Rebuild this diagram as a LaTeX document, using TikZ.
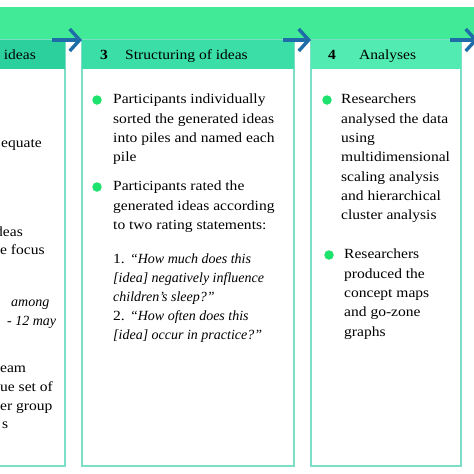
\documentclass[tikz,border=0pt]{standalone}
\usepackage{fontspec}
\setmainfont{Liberation Serif}[UprightFeatures={FakeStretch=1.11},
  BoldFeatures={FakeStretch=1.11}]
\usepackage{xcolor}
\usepackage{tikz}
\usetikzlibrary{arrows.meta}
\definecolor{topbar}{RGB}{64,234,150}
\definecolor{headA}{RGB}{44,208,156}
\definecolor{headB}{RGB}{58,222,166}
\definecolor{headC}{RGB}{82,236,178}
\definecolor{rim}{RGB}{125,222,200}
\definecolor{flowblue}{RGB}{30,108,168}
\definecolor{dotgreen}{RGB}{30,226,110}
\tikzstyle{stagebox}=[draw=rim, fill=white, line width=1.3pt, inner sep=0pt,
  outer sep=0pt, anchor=north west, minimum height=426pt]
\tikzstyle{header}=[inner sep=0pt, outer sep=0pt, anchor=north west,
  minimum height=29pt]
\tikzstyle{note}=[anchor=base west, inner sep=0pt, align=left,
  font=\fontsize{14}{19.3}\selectfont]
\tikzstyle{block}=[note, anchor=north west,
  execute at begin node={\rule{0pt}{11pt}}]
\tikzstyle{quote}=[block, font=\fontsize{14}{19}\selectfont\itshape]
\tikzstyle{cut}=[note]
\tikzstyle{dot}=[circle, fill=dotgreen, inner sep=0pt, minimum size=9.5pt]
\tikzstyle{flow}=[draw, color=flowblue, line width=3.4pt,
  -{Straight Barb[length=10pt,width=22pt]}]
\newcommand{\stage}[4]{%
  node (b#1) [stagebox, minimum width=#3] at (#2,40) {}
  node (h#1) [header, minimum width=#3, fill=#4] at (#2,40) {}}

\begin{document}
\begin{tikzpicture}[x=1pt,y=-1pt]
  \useasboundingbox (0,0) rectangle (474,474);
  \clip (0,0) rectangle (474,474);

  % Draw the green band on top
  \path[fill=topbar] (-10,7) rectangle (490,40);

  % Draw the stages
  \path \stage{2}{-120}{185pt}{headA};
  \path \stage{3}{82}{212pt}{headB};
  \path \stage{4}{311}{150pt}{headC};
  \coordinate (next) at (478,40);

  % Headers
  \path (h2.north west)+(156,19) node (s2) [note, anchor=base east] {ideas};
  \path (h3.north west)+(18,19) node (n3) [note] {\textbf{3}}
    +(43,19) node (s3) [note] {Structuring of ideas};
  \path (h4.north west)+(17,19) node (n4) [note] {\textbf{4}}
    +(48,19) node (s4) [note] {Analyses};

  % Left stage, what is left of it
  \path (1,147) node (c1) [cut] {equate};
  \path (-5,236) node (c2) [cut] {deas};
  \path (0,254) node (c3) [cut] {e focus};
  \path (11,306) node (c4) [cut] {\textit{among}};
  \path (7,325) node (c5) [cut] {\textit{- 12 may}};
  \path (0,372) node (c6) [cut] {eam};
  \path (0,391) node (c7) [cut] {ue set of};
  \path (0,410) node (c8) [cut] {er group};
  \path (2,428) node (c9) [cut] {s};

  % Structuring of ideas
  \path (b3.north west)+(15,60) node (d1) [dot] {}
    +(31,54) node (t1) [block] {Participants individually\\sorted the generated ideas\\into piles and named each\\pile};
  \path (b3.north west)+(15,147) node (d2) [dot] {}
    +(31,141) node (t2) [block] {Participants rated the\\generated ideas according\\to two rating statements:};
  \path (b3.north west)+(31,214) node (q1) [quote]
    {\upshape 1. \itshape``How much does this\\{[idea]} negatively influence\\children's sleep?''\\\upshape 2. \itshape``How often does this\\{[idea]} occur in practice?''};

  % Analyses
  \path (b4.north west)+(16,60) node (d3) [dot] {}
    +(30,54) node (t3) [block] {Researchers\\analysed the data\\using\\multidimensional\\scaling analysis\\and hierarchical\\cluster analysis};
  \path (b4.north west)+(18,215) node (d4) [dot] {}
    +(33,209) node (t4) [block] {Researchers\\produced the\\concept maps\\and go-zone\\graphs};

  % Draw arrows between stages
  \coordinate (a2) at (52,40);
  \coordinate (a3) at (283,40);
  \coordinate (a4) at (450,40);
  \path [flow] (a2) -- (h3.north west);
  \path [flow] (a3) -- (h4.north west);
  \path [flow] (a4) -- (next);
\end{tikzpicture}
\end{document}
